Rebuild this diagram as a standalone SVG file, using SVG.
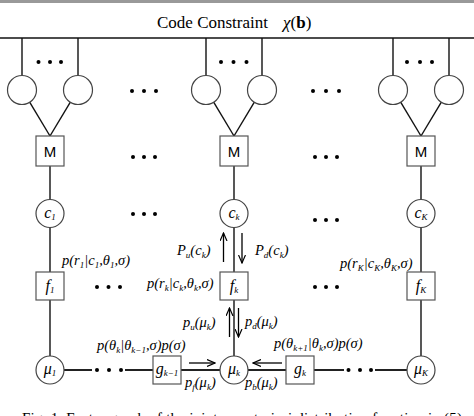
<svg xmlns="http://www.w3.org/2000/svg" width="474" height="416" viewBox="0 0 474 416">
<defs>
<style>
.ln{stroke:#111;stroke-width:1.4;fill:none}
.hl{stroke:#222;stroke-width:2;fill:none}
.nd{fill:#fff;stroke:#444;stroke-width:1.2}
.bx{fill:#fff;stroke:#555;stroke-width:1.2}
.dot{fill:#000}
.ar{stroke:#000;stroke-width:1.3;fill:none;marker-end:url(#ah)}
.t{font-family:"Liberation Serif",serif;fill:#000}
.it{font-family:"Liberation Serif",serif;font-style:italic;fill:#000;font-size:14.5px}
.nl{font-family:"Liberation Serif",serif;font-style:italic;fill:#000;font-size:16px;text-anchor:middle}
.m{font-family:"Liberation Sans",sans-serif;font-size:15px;text-anchor:middle;fill:#000}
.sb{font-size:9px}
</style>
<marker id="ah" markerWidth="9" markerHeight="8" refX="8" refY="4" orient="auto" markerUnits="userSpaceOnUse">
<path d="M0,0.5 L8,4 L0,7.5" fill="none" stroke="#000" stroke-width="1.2"/>
</marker>
</defs>
<rect x="0" y="0" width="474" height="3" fill="#999"/>
<g id="code-constraint">
<line x1="0" y1="38" x2="474" y2="38" class="ln"/>
<text x="157" y="28" class="t" font-size="17">Code Constraint</text>
<text x="283" y="28" class="t" font-size="17"><tspan font-style="italic">χ</tspan>(<tspan font-weight="bold">b</tspan>)</text>
</g>
<g id="connectors">
<line x1="22" y1="38" x2="22" y2="75.5" class="ln"/>
<line x1="78" y1="38" x2="78" y2="75.5" class="ln"/>
<line x1="206" y1="38" x2="206" y2="75.5" class="ln"/>
<line x1="262" y1="38" x2="262" y2="75.5" class="ln"/>
<line x1="393" y1="38" x2="393" y2="75.5" class="ln"/>
<line x1="449" y1="38" x2="449" y2="75.5" class="ln"/>
<line x1="29.8" y1="102.4" x2="50" y2="136" class="ln"/>
<line x1="70.2" y1="102.4" x2="50" y2="136" class="ln"/>
<line x1="213.8" y1="102.4" x2="234" y2="136" class="ln"/>
<line x1="254.2" y1="102.4" x2="234" y2="136" class="ln"/>
<line x1="400.8" y1="102.4" x2="421" y2="136" class="ln"/>
<line x1="441.2" y1="102.4" x2="421" y2="136" class="ln"/>
<line x1="50" y1="166" x2="50" y2="356" class="ln"/>
<line x1="234" y1="166" x2="234" y2="356" class="ln"/>
<line x1="421" y1="166" x2="421" y2="356" class="ln"/>
<line x1="64" y1="370" x2="92" y2="370" class="hl"/>
<line x1="125" y1="370" x2="153" y2="370" class="hl"/>
<line x1="181" y1="370" x2="220" y2="370" class="hl"/>
<line x1="248" y1="370" x2="286" y2="370" class="hl"/>
<line x1="314" y1="370" x2="344" y2="370" class="hl"/>
<line x1="375" y1="370" x2="407" y2="370" class="hl"/>
<line x1="223.5" y1="262" x2="223.5" y2="233" class="ar"/>
<line x1="242" y1="233" x2="242" y2="263" class="ar"/>
<line x1="229.5" y1="337" x2="229.5" y2="308" class="ar"/>
<line x1="238.5" y1="308" x2="238.5" y2="337" class="ar"/>
<line x1="189" y1="363" x2="215" y2="363" class="ar"/>
<line x1="282" y1="363" x2="253" y2="363" class="ar"/>
</g>
<g id="dots">
<circle cx="38.5" cy="62" r="2" class="dot"/><circle cx="50" cy="62" r="2" class="dot"/><circle cx="61" cy="62" r="2" class="dot"/>
<circle cx="221" cy="62" r="2" class="dot"/><circle cx="233.5" cy="62" r="2" class="dot"/><circle cx="246.5" cy="62" r="2" class="dot"/>
<circle cx="407" cy="62" r="2" class="dot"/><circle cx="420" cy="62" r="2" class="dot"/><circle cx="432" cy="62" r="2" class="dot"/>
<circle cx="132" cy="91" r="2" class="dot"/><circle cx="144" cy="91" r="2" class="dot"/><circle cx="156" cy="91" r="2" class="dot"/>
<circle cx="313" cy="91" r="2" class="dot"/><circle cx="326" cy="91" r="2" class="dot"/><circle cx="339" cy="91" r="2" class="dot"/>
<circle cx="133" cy="157" r="2" class="dot"/><circle cx="144" cy="157" r="2" class="dot"/><circle cx="155" cy="157" r="2" class="dot"/>
<circle cx="315" cy="157" r="2" class="dot"/><circle cx="326" cy="157" r="2" class="dot"/><circle cx="337" cy="157" r="2" class="dot"/>
<circle cx="133" cy="214" r="2" class="dot"/><circle cx="144" cy="214" r="2" class="dot"/><circle cx="155" cy="214" r="2" class="dot"/>
<circle cx="315" cy="220" r="2" class="dot"/><circle cx="326" cy="220" r="2" class="dot"/><circle cx="337" cy="220" r="2" class="dot"/>
<circle cx="97" cy="287" r="2" class="dot"/><circle cx="108.5" cy="287" r="2" class="dot"/><circle cx="120" cy="287" r="2" class="dot"/>
<circle cx="315" cy="287" r="2" class="dot"/><circle cx="326" cy="287" r="2" class="dot"/><circle cx="337" cy="287" r="2" class="dot"/>
<circle cx="97" cy="370" r="2" class="dot"/><circle cx="109" cy="370" r="2" class="dot"/><circle cx="121" cy="370" r="2" class="dot"/>
<circle cx="348.5" cy="370" r="2" class="dot"/><circle cx="360" cy="370" r="2" class="dot"/><circle cx="371" cy="370" r="2" class="dot"/>
</g>
<g id="bits-1"><circle cx="22" cy="90" r="14.5" class="nd"/><circle cx="78" cy="90" r="14.5" class="nd"/></g>
<g id="bits-k"><circle cx="206" cy="90" r="14.5" class="nd"/><circle cx="262" cy="90" r="14.5" class="nd"/></g>
<g id="bits-K"><circle cx="393" cy="90" r="14.5" class="nd"/><circle cx="449" cy="90" r="14.5" class="nd"/></g>
<g id="M1"><rect x="36" y="136" width="28" height="30" class="bx"/><text x="50" y="156.5" class="m">M</text></g>
<g id="Mk"><rect x="220" y="136" width="28" height="30" class="bx"/><text x="234" y="156.5" class="m">M</text></g>
<g id="MK"><rect x="407" y="136" width="28" height="30" class="bx"/><text x="421" y="156.5" class="m">M</text></g>
<g id="c1"><circle cx="50" cy="213.5" r="14" class="nd"/><text x="50" y="218" class="nl">c<tspan class="sb" dy="2">1</tspan></text></g>
<g id="ck"><circle cx="234" cy="213.5" r="14" class="nd"/><text x="234" y="218" class="nl">c<tspan class="sb" dy="2">k</tspan></text></g>
<g id="cK"><circle cx="421" cy="213.5" r="14" class="nd"/><text x="421" y="218" class="nl">c<tspan class="sb" dy="2">K</tspan></text></g>
<g id="f1"><rect x="36" y="272" width="28" height="28" class="bx"/><text x="50" y="291" class="nl">f<tspan class="sb" dy="2">1</tspan></text></g>
<g id="fk"><rect x="220" y="272" width="28" height="28" class="bx"/><text x="234" y="291" class="nl">f<tspan class="sb" dy="2">k</tspan></text></g>
<g id="fK"><rect x="407" y="272" width="28" height="28" class="bx"/><text x="421" y="291" class="nl">f<tspan class="sb" dy="2">K</tspan></text></g>
<g id="mu1"><circle cx="50" cy="370" r="14" class="nd"/><text x="50" y="374" class="nl">μ<tspan class="sb" dy="2">1</tspan></text></g>
<g id="muk"><circle cx="234" cy="370" r="14" class="nd"/><text x="234" y="374" class="nl">μ<tspan class="sb" dy="2">k</tspan></text></g>
<g id="muK"><circle cx="421" cy="370" r="14" class="nd"/><text x="421" y="374" class="nl">μ<tspan class="sb" dy="2">K</tspan></text></g>
<g id="gk-1"><rect x="153" y="356" width="28" height="28" class="bx"/><text x="167" y="374" class="nl">g<tspan class="sb" dy="2">k−1</tspan></text></g>
<g id="gk"><rect x="286" y="356" width="28" height="28" class="bx"/><text x="300" y="374" class="nl">g<tspan class="sb" dy="2">k</tspan></text></g>
<g id="labels">
<text x="177" y="255" class="it" font-size="15.5">P<tspan class="sb" dy="3">u</tspan><tspan dy="-3">(c</tspan><tspan class="sb" dy="3">k</tspan><tspan dy="-3">)</tspan></text>
<text x="255" y="255" class="it" font-size="15.5">P<tspan class="sb" dy="3">d</tspan><tspan dy="-3">(c</tspan><tspan class="sb" dy="3">k</tspan><tspan dy="-3">)</tspan></text>
<text x="62" y="265" class="it">p(r<tspan class="sb" dy="3">1</tspan><tspan dy="-3">|c</tspan><tspan class="sb" dy="3">1</tspan><tspan dy="-3">,θ</tspan><tspan class="sb" dy="3">1</tspan><tspan dy="-3">,σ)</tspan></text>
<text x="147" y="288" class="it">p(r<tspan class="sb" dy="3">k</tspan><tspan dy="-3">|c</tspan><tspan class="sb" dy="3">k</tspan><tspan dy="-3">,θ</tspan><tspan class="sb" dy="3">k</tspan><tspan dy="-3">,σ)</tspan></text>
<text x="340" y="268" class="it">p(r<tspan class="sb" dy="3">K</tspan><tspan dy="-3">|c</tspan><tspan class="sb" dy="3">K</tspan><tspan dy="-3">,θ</tspan><tspan class="sb" dy="3">K</tspan><tspan dy="-3">,σ)</tspan></text>
<text x="183" y="327" class="it">p<tspan class="sb" dy="3">u</tspan><tspan dy="-3">(μ</tspan><tspan class="sb" dy="3">k</tspan><tspan dy="-3">)</tspan></text>
<text x="245" y="326" class="it">p<tspan class="sb" dy="3">d</tspan><tspan dy="-3">(μ</tspan><tspan class="sb" dy="3">k</tspan><tspan dy="-3">)</tspan></text>
<text x="97" y="350" class="it">p(θ<tspan class="sb" dy="3">k</tspan><tspan dy="-3">|θ</tspan><tspan class="sb" dy="3">k−1</tspan><tspan dy="-3">,σ)p(σ)</tspan></text>
<text x="274" y="348" class="it">p(θ<tspan class="sb" dy="3">k+1</tspan><tspan dy="-3">|θ</tspan><tspan class="sb" dy="3">k</tspan><tspan dy="-3">,σ)p(σ)</tspan></text>
<text x="185" y="387" class="it">p<tspan class="sb" dy="3">f</tspan><tspan dy="-3">(μ</tspan><tspan class="sb" dy="3">k</tspan><tspan dy="-3">)</tspan></text>
<text x="245" y="387" class="it">p<tspan class="sb" dy="3">b</tspan><tspan dy="-3">(μ</tspan><tspan class="sb" dy="3">k</tspan><tspan dy="-3">)</tspan></text>
</g>
<text x="22" y="423" class="t" font-size="15" textLength="440">Fig. 1.   Factor graph of the joint a posteriori distribution function in (5)</text>
</svg>
